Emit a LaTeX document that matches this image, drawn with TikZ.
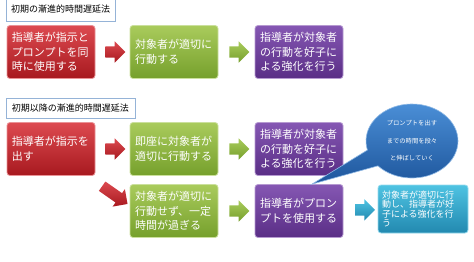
\documentclass[tikz,border=0pt]{standalone}
\usepackage{fontspec}
\setmainfont{Noto Sans CJK JP}
\usepackage{xcolor}
\usetikzlibrary{shapes.arrows,shapes.callouts,calc}

\definecolor{redtop}{HTML}{DC4A50}
\definecolor{redbot}{HTML}{A8191F}
\definecolor{greentop}{HTML}{A9CB5C}
\definecolor{greenbot}{HTML}{76A02C}
\definecolor{purptop}{HTML}{8557B3}
\definecolor{purpbot}{HTML}{5A2E86}
\definecolor{cyantop}{HTML}{4FC3E2}
\definecolor{cyanbot}{HTML}{2289B0}
\definecolor{bluetop}{HTML}{4A8ED6}
\definecolor{bluebot}{HTML}{1E569C}
\definecolor{titleline}{HTML}{95B3D7}

\begin{document}
\begin{tikzpicture}[x=1pt,y=-1pt,
  box/.style={rectangle,rounded corners=3pt,minimum width=88pt,minimum height=53pt,
    inner sep=5pt,text width=78pt,align=left,text=white,line width=0.8pt,
    font=\fontsize{11}{14.5}\selectfont},
  redbox/.style={box,top color=redtop,bottom color=redbot,draw=redtop!60!white},
  greenbox/.style={box,top color=greentop,bottom color=greenbot,draw=greentop!60!white},
  purpbox/.style={box,top color=purptop,bottom color=purpbot,draw=purptop!60!white},
  cyanbox/.style={box,top color=cyantop,bottom color=cyanbot,draw=cyantop!60!white,
    minimum width=90pt,minimum height=48pt,inner sep=4pt,text width=82pt,
    font=\fontsize{9}{9.6}\selectfont},
  titlebox/.style={rectangle,draw=titleline,line width=0.8pt,fill=white,minimum height=21pt,
    inner sep=2pt,font=\fontsize{9}{11}\selectfont},
  fatarrow/.style={single arrow,single arrow head extend=5pt,inner sep=0pt,
    text height=5.5pt,text depth=5.5pt,minimum width=21pt,minimum height=20pt},
  redarrow/.style={fatarrow,top color=redtop,bottom color=redbot},
  greenarrow/.style={fatarrow,top color=greentop,bottom color=greenbot},
  cyanarrow/.style={fatarrow,top color=cyantop,bottom color=cyanbot}
]
\useasboundingbox (0,0) rectangle (474,262);

% top part
\node[titlebox,minimum width=109pt,minimum height=25pt] (t1) at (60.5,9) {\raisebox{-2pt}{初期の漸進的時間遅延法}};
\node[redbox]   (r1) at (51,52)  {指導者が指示と\\プロンプトを同\\時に使用する};
\node[greenbox] (g1) at (174,52) {対象者が適切に\\行動する};
\node[purpbox]  (p1) at (299,52) {指導者が対象者\\の行動を好子に\\よる強化を行う};
\node[redarrow]   (a1) at ($(r1.east)!0.5!(g1.west)$) {};
\node[greenarrow] (a2) at ($(g1.east)!0.5!(p1.west)$) {};

% lower part
\node[titlebox,minimum width=129pt,minimum height=20pt] (t2) at (70.5,108) {初期以降の漸進的時間遅延法};
\node[redbox]   (r2) at (51,149)  {指導者が指示を\\出す};
\node[greenbox] (g2) at (174,149) {即座に対象者が\\適切に行動する};
\node[purpbox]  (p2) at (299,149) {指導者が対象者\\の行動を好子に\\よる強化を行う};
\node[greenbox] (g3) at (174,211) {対象者が適切に\\行動せず、一定\\時間が過ぎる};
\node[purpbox]  (p3) at (299,211) {指導者がプロン\\プトを使用する};
\node[cyanbox]  (c3) at (423,209) {対象者が適切に行\\動し、指導者が好\\子による強化を行\\う};
\node[redarrow]   (a3) at ($(r2.east)!0.5!(g2.west)$) {};
\node[redarrow,rotate=-35,minimum height=31pt] (a4) at ($(r2.south east)!0.5!(g3.west)$) {};
\node[greenarrow] (a5) at ($(g2.east)!0.5!(p2.west)$) {};
\node[greenarrow] (a6) at ($(g3.east)!0.5!(p3.west)$) {};
\node[cyanarrow]  (a7) at ($(p3.east)!0.55!(c3.west)$) {};

\node[ellipse callout,callout absolute pointer={($(p3.north)+(13,0)$)},callout pointer arc=28,
  top color=bluetop,bottom color=bluebot,draw=bluetop!60!white,line width=0.6pt,
  minimum width=92pt,minimum height=74pt,inner sep=0pt,text=white,align=center,
  font=\fontsize{6.3}{17.5}\selectfont] (bub) at (412,141)
  {プロンプトを出す\\までの時間を段々\\と伸ばしていく};
\end{tikzpicture}
\end{document}
